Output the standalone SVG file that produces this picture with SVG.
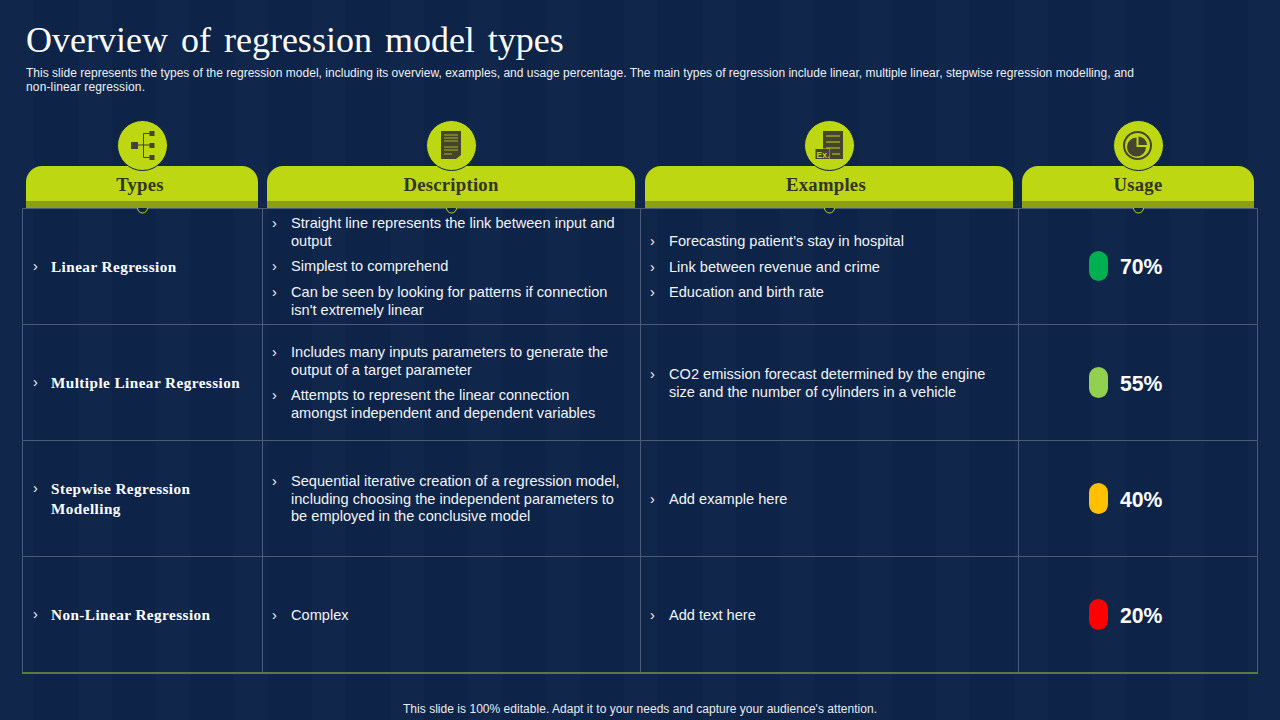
<svg xmlns="http://www.w3.org/2000/svg" width="1280" height="720" viewBox="0 0 1280 720">
<defs>
<pattern id="bands" x="0" y="0" width="78" height="720" patternUnits="userSpaceOnUse">
<rect width="78" height="720" fill="#0d2347"/><rect x="0" width="34" height="720" fill="#10274b"/>
</pattern>
</defs>
<style>
.t{font-family:"Liberation Sans",Arial,sans-serif;fill:#f2f4f7;font-size:14.6px}
.h{font-family:"Liberation Serif","Times New Roman",serif;font-weight:700;font-size:18.7px;fill:#33361a;text-anchor:middle;letter-spacing:.25px}
.n{font-family:"Liberation Serif","Times New Roman",serif;font-weight:700;font-size:15.2px;fill:#fff;letter-spacing:.45px}
.p{font-family:"Liberation Sans",Arial,sans-serif;font-weight:700;font-size:21.2px;fill:#fff}
.b{font-family:"Liberation Sans",Arial,sans-serif;fill:#e8ebef;font-size:12px}
.g{stroke:#4d5b74;stroke-width:1;fill:none}
.hd{fill:#bdd713}
.hb{fill:#8d9f14}
.c{fill:#bdd713;stroke:#0d2347;stroke-width:1}
.dk{fill:#45452f}
.ring{fill:#0d2347;stroke:#bdd713;stroke-width:1}
</style>
<rect width="1280" height="720" fill="url(#bands)"/>
<g id="title">
<text x="26" y="52" font-family="'Liberation Serif','Times New Roman',serif" font-size="36" fill="#fff" word-spacing="4">Overview of regression model types</text>
<text x="26" y="77" font-family="'Liberation Sans',Arial,sans-serif" font-size="12" fill="#eef0f3" textLength="1108">This slide represents the types of the regression model, including its overview, examples, and usage percentage. The main types of regression include linear, multiple linear, stepwise regression modelling, and</text>
<text x="26" y="91" font-family="'Liberation Sans',Arial,sans-serif" font-size="12" fill="#eef0f3" textLength="119">non-linear regression.</text>
</g>
<g id="table-grid">
<path class="g" d="M22.500 208V673M262.500 208V673M640.500 208V673M1018.500 208V673M1257.500 208V673M22 208.500H1258M22 324.500H1258M22 440.500H1258M22 556.500H1258"/>
<path d="M22 673H1258" stroke="#5a7a3e" stroke-width="2" fill="none"/>
</g>
<g id="head-types">
<circle class="ring" cx="142.500" cy="208" r="5"/>
<path class="hd" d="M26 201V182A16 16 0 0 1 42 166H242A16 16 0 0 1 258 182V201Z"/>
<rect class="hb" x="26" y="201" width="232" height="7"/>
<text class="h" x="140" y="191">Types</text>
<circle class="c" cx="142.500" cy="145.500" r="25"/>
<g fill="none" stroke="#45452f" stroke-width="1"><path d="M137 145H151.500M143.500 133.500V157.500H151.500M143.500 133.500H151.500"/></g>
<rect class="dk" x="131" y="142" width="7" height="7"/><rect class="dk" x="149.500" y="131" width="5" height="5"/><rect class="dk" x="149.500" y="143" width="5" height="5"/><rect class="dk" x="149.500" y="155" width="5" height="5"/>
</g>
<g id="head-description">
<circle class="ring" cx="451.500" cy="208" r="5"/>
<path class="hd" d="M267 201V182A16 16 0 0 1 283 166H619A16 16 0 0 1 635 182V201Z"/>
<rect class="hb" x="267" y="201" width="368" height="7"/>
<text class="h" x="451" y="191">Description</text>
<circle class="c" cx="451.500" cy="145.500" r="25"/>
<path class="dk" d="M441 131H461V155L456 159H441Z"/>
<path d="M444 135H458M444 138H458M444 141H458M444 147H458M444 150H458M444 154H452" stroke="#bdd713" stroke-width=".8" fill="none"/>
</g>
<g id="head-examples">
<circle class="ring" cx="829.500" cy="208" r="5"/>
<path class="hd" d="M645 201V182A16 16 0 0 1 661 166H997A16 16 0 0 1 1013 182V201Z"/>
<rect class="hb" x="645" y="201" width="368" height="7"/>
<text class="h" x="826" y="191">Examples</text>
<circle class="c" cx="829.500" cy="145.500" r="25"/>
<path class="dk" d="M823 131H843V159H815V149H823Z"/>
<path d="M826 136H840M826 142H840M826 148H840M832 154H840" stroke="#bdd713" stroke-width="1" fill="none"/>
<rect x="815" y="148.500" width="15" height="11" fill="#bdd713"/>
<rect x="815.500" y="149" width="14" height="10" fill="#45452f"/>
<text x="816.500" y="157.500" font-family="'Liberation Sans',Arial,sans-serif" font-weight="700" font-size="8.500" fill="#bdd713">Ex.</text>
</g>
<g id="head-usage">
<circle class="ring" cx="1138.500" cy="208" r="5"/>
<path class="hd" d="M1022 201V182A16 16 0 0 1 1038 166H1238A16 16 0 0 1 1254 182V201Z"/>
<rect class="hb" x="1022" y="201" width="232" height="7"/>
<text class="h" x="1138" y="191">Usage</text>
<circle class="c" cx="1138.500" cy="145.500" r="25"/>
<circle cx="1137.500" cy="145.500" r="13.500" fill="none" stroke="#45452f" stroke-width="2"/>
<path d="M1136.500 137.500A9.500 9.500 0 1 0 1146 147H1136.500Z" fill="#45452f"/>
<path d="M1138.500 136.500A9 9 0 0 1 1147 145H1138.500Z" fill="#45452f"/>
</g>
<g id="col-types">
<text class="t" x="33" y="271">›</text><text class="n" x="51" y="272">Linear Regression</text>
<text class="t" x="33" y="387">›</text><text class="n" x="51" y="388">Multiple Linear Regression</text>
<text class="t" x="33" y="493">›</text><text class="n" x="51" y="494">Stepwise Regression</text><text class="n" x="51" y="514">Modelling</text>
<text class="t" x="33" y="619">›</text><text class="n" x="51" y="620">Non-Linear Regression</text>
</g>
<g id="col-description">
<text class="t" x="272" y="228">›</text><text class="t" x="291" y="228">Straight line represents the link between input and</text><text class="t" x="291" y="246">output</text>
<text class="t" x="272" y="271">›</text><text class="t" x="291" y="271">Simplest to comprehend</text>
<text class="t" x="272" y="297">›</text><text class="t" x="291" y="297">Can be seen by looking for patterns if connection</text><text class="t" x="291" y="315">isn't extremely linear</text>
<text class="t" x="272" y="357">›</text><text class="t" x="291" y="357">Includes many inputs parameters to generate the</text><text class="t" x="291" y="375">output of a target parameter</text>
<text class="t" x="272" y="400">›</text><text class="t" x="291" y="400">Attempts to represent the linear connection</text><text class="t" x="291" y="418">amongst independent and dependent variables</text>
<text class="t" x="272" y="486">›</text><text class="t" x="291" y="486">Sequential iterative creation of a regression model,</text><text class="t" x="291" y="504">including choosing the independent parameters to</text><text class="t" x="291" y="521">be employed in the conclusive model</text>
<text class="t" x="272" y="620">›</text><text class="t" x="291" y="620">Complex</text>
</g>
<g id="col-examples">
<text class="t" x="650" y="246">›</text><text class="t" x="669" y="246">Forecasting patient’s stay in hospital</text>
<text class="t" x="650" y="272">›</text><text class="t" x="669" y="272">Link between revenue and crime</text>
<text class="t" x="650" y="297">›</text><text class="t" x="669" y="297">Education and birth rate</text>
<text class="t" x="650" y="379">›</text><text class="t" x="669" y="379">CO2 emission forecast determined by the engine</text><text class="t" x="669" y="397">size and the number of cylinders in a vehicle</text>
<text class="t" x="650" y="504">›</text><text class="t" x="669" y="504">Add example here</text>
<text class="t" x="650" y="620">›</text><text class="t" x="669" y="620">Add text here</text>
</g>
<g id="col-usage">
<rect x="1089" y="251" width="19" height="30" rx="9.500" fill="#00b050"/><text class="p" x="1120" y="274">70%</text>
<rect x="1089" y="367" width="19" height="31" rx="9.500" fill="#92d050"/><text class="p" x="1120" y="391">55%</text>
<rect x="1089" y="483" width="19" height="31" rx="9.500" fill="#ffc000"/><text class="p" x="1120" y="507">40%</text>
<rect x="1089" y="599" width="19" height="31" rx="9.500" fill="#f00"/><text class="p" x="1120" y="623">20%</text>
</g>
<text class="b" x="403" y="713" textLength="474">This slide is 100% editable. Adapt it to your needs and capture your audience's attention.</text>
</svg>
